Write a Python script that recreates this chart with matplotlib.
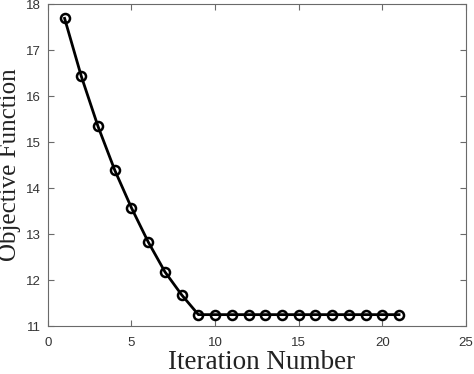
import matplotlib
matplotlib.use("Agg")
import matplotlib.pyplot as plt

iterations = list(range(1, 22))
objective = [17.69, 16.43, 15.34, 14.39, 13.57, 12.83, 12.18, 11.68, 11.25,
             11.25, 11.25, 11.25, 11.25, 11.25, 11.25, 11.25, 11.25, 11.25,
             11.25, 11.25, 11.25]
xticks = [0, 5, 10, 15, 20, 25]
yticks = [11, 12, 13, 14, 15, 16, 17, 18]

fig = plt.figure(figsize=(4.74, 3.74), dpi=100)
ax = fig.add_axes([0.101, 0.128, 0.882, 0.861])
ax.plot(iterations, objective, color="black", linewidth=2.0, marker="o",
        markersize=6.5, markerfacecolor="none", markeredgecolor="black",
        markeredgewidth=1.8)
ax.set_xlim(0, 25)
ax.set_ylim(11, 18)
ax.set_xticks(xticks)
ax.set_yticks(yticks)
for s in ax.spines.values():
    s.set_color("#6a6a6a")
    s.set_linewidth(0.8)
ax.tick_params(direction="in", top=True, right=True, length=4, width=0.8,
               color="#6a6a6a", labelcolor="#333333", labelsize=9.5)
ax.tick_params(axis="x", pad=8)
ax.tick_params(axis="y", pad=5)
for lab in ax.get_xticklabels() + ax.get_yticklabels():
    lab.set_family("Liberation Sans")
ax.set_xlabel("Iteration Number", family="Liberation Serif", fontsize=19.5,
              color="#222222", va="baseline")
ax.xaxis.set_label_coords(0.512, -0.1335)
ax.set_ylabel("Objective Function", family="Liberation Serif", fontsize=18,
              color="#222222", va="baseline")
ax.yaxis.set_label_coords(-0.0766, 0.5)
fig.savefig("out.png", dpi=100)
